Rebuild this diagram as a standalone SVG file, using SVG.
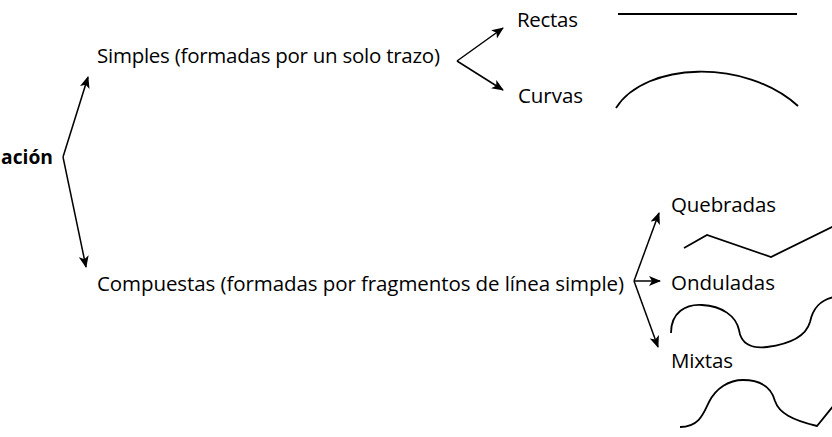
<svg xmlns="http://www.w3.org/2000/svg" width="832" height="437" viewBox="0 0 832 437">
<style>
text{font-family:"Open Sans","Noto Sans","Liberation Sans",sans-serif;font-size:20.5px;fill:#000}
.b{font-weight:bold;font-size:19.5px}
.c{fill:none;stroke:#000;stroke-width:1.5}
.s{fill:none;stroke:#000;stroke-width:1.8;stroke-linejoin:miter}
</style>
<defs>
<marker id="ah" viewBox="0 0 12 10" refX="11" refY="5" markerWidth="13" markerHeight="10" markerUnits="userSpaceOnUse" orient="auto">
<path d="M0,0 L12,5 L0,10 L3,5 Z" fill="#000"/>
</marker>
</defs>
<rect width="832" height="437" fill="#fff"/>
<g id="root"><text class="b" x="1" y="164" textLength="52" lengthAdjust="spacingAndGlyphs">ación</text></g>
<g id="simples"><text x="97" y="63" textLength="343" lengthAdjust="spacing">Simples (formadas por un solo trazo)</text></g>
<g id="compuestas"><text x="97" y="291" textLength="527" lengthAdjust="spacing">Compuestas (formadas por fragmentos de línea simple)</text></g>
<g id="rectas"><text x="517" y="27" textLength="61" lengthAdjust="spacing">Rectas</text>
<path class="s" d="M618,14 L797,14"/></g>
<g id="curvas"><text x="518" y="103" textLength="65" lengthAdjust="spacing">Curvas</text>
<path class="s" d="M616,108 C645,62 745,58 798,106"/></g>
<g id="quebradas"><text x="671" y="212" textLength="105" lengthAdjust="spacing">Quebradas</text>
<path class="s" d="M684,248 L707,235 L771,257 L834,226"/></g>
<g id="onduladas"><text x="671" y="290" textLength="104" lengthAdjust="spacing">Onduladas</text>
<path class="s" d="M671,333 C671,312 686,304 702,305 C722,306 736,316 739,330 C741,344 752,349 767,347 C790,344 806,336 810,322 C813,308 820,300 834,297"/></g>
<g id="mixtas"><text x="671" y="368" textLength="62" lengthAdjust="spacing">Mixtas</text>
<path class="s" d="M680,427 C700,427 704,412 709,402 C716,388 729,380 743,380 C763,380 772,390 775,401 C779,413 792,420 817,426 L834,405"/></g>
<g id="connectors">
<path class="c" d="M63,157 L88,77" marker-end="url(#ah)"/>
<path class="c" d="M63,157 L86,267" marker-end="url(#ah)"/>
<path class="c" d="M457,61 L503,28" marker-end="url(#ah)"/>
<path class="c" d="M457,61 L503,90" marker-end="url(#ah)"/>
<path class="c" d="M634,281 L659,213" marker-end="url(#ah)"/>
<path class="c" d="M634,281 L660,281" marker-end="url(#ah)"/>
<path class="c" d="M634,281 L658,347" marker-end="url(#ah)"/>
</g>
</svg>
